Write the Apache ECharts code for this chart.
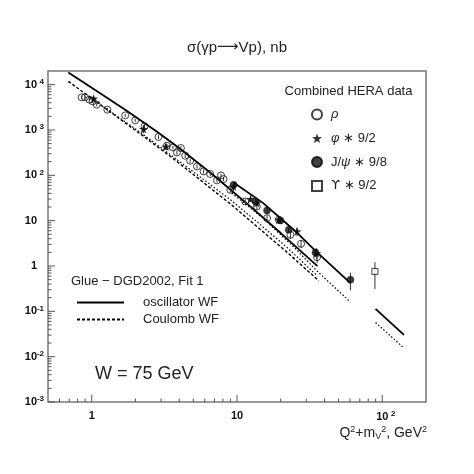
<!DOCTYPE html>
<html><head><meta charset="utf-8">
<script src="https://cdn.jsdelivr.net/npm/echarts@6/dist/echarts.min.js"></script>
<style>html,body{margin:0;padding:0;background:#fff}#c{width:474px;height:474px}</style>
</head><body><div id="c"></div>
<script>
// ---- axis ranges / tick labels ----
const xMin = 0.5, xMax = 200;
const yMin = 0.001, yMax = 20000;

// ---- data points (Combined HERA data) ----
const rhoX = [0.853,0.899,0.963,1.016,1.083,1.28,1.70,1.99,2.31,2.88,3.29,3.62,3.86,4.11,4.40,4.76,5.30,5.89,6.54,7.28,7.76,8.08,8.99,11.4,13.7,16.1,19.4,23.3,27.6,35.6];
const rhoY = [5250,5250,4667,4277,3620,2806,2100,1630,1202,701,450,413,320,400,271,210,157,122,107,77.3,99.5,82.8,48,26.5,20.6,11.4,10.5,4.88,3.09,1.57];
const rhoErr = [450,450,400,370,310,240,180,140,250,70,45,40,35,40,30,22,16,13,11,8,10,9,6,3.5,2.8,1.8,1.6,0.9,0.6,0.4];

const phiX = [1.03,2.27,3.24,9.47,12.4,13.7,19.4,25.9,35.3];
const phiY = [4910,1050,430,56.9,30,24.5,10.5,5.78,1.93];
const phiErr = [600,200,60,8,4,3.5,2,1.2,0.5];

const jpsiX = [9.47,13.4,16.1,19.9,22.7,34.7,60.4];
const jpsiY = [62,26.5,16.8,10.1,6.3,1.99,0.5];
const jpsiErr = [6,3,2,1.3,0.9,0.4,0.21];

const upsX = [89];
const upsY = [0.76];
const upsErr = [0.45];

// ---- model curves (Glue DGD2002, Fit 1) ----
const rhoOscX = [0.69,1.0,1.72,2.8,4.06,6.5,12,20,35.8];
const rhoOscY = [18600,8550,2710,928,387,117,22.3,5.33,0.99];
const jpsiOscX = [9.47,15,25,35,60.4];
const jpsiOscY = [69.7,25,6.0,2.1,0.42];
const upsOscX = [89.9,141];
const upsOscY = [0.1135,0.0303];

const rhoCoulX = [0.69,1.2,2.27,3.5,5.58,9,13.7,22,36.5];
const rhoCoulY = [11830,3236,730,257,79.2,23.4,7.45,2.04,0.474];
const phiCoulX = [1.1,2.27,5.58,9,13.7,22,35.8];
const phiCoulY = [4000,790,92,29,9.5,2.6,0.6];
const jpsiCoulX = [9.2,15,25,35.8,60.4];
const jpsiCoulY = [40.7,11.5,2.5,0.757,0.16];
const upsCoulX = [89.9,141];
const upsCoulY = [0.0566,0.0155];

// ---- helpers ----
const F = "'Liberation Sans', Arial, sans-serif";
const FD = "'DejaVu Sans', sans-serif";
const zip = (xs, ys) => xs.map((x, i) => [x, ys[i]]);
const zipErr = (xs, ys, es) => xs.map((x, i) => [x, ys[i], es[i]]);
function expOf(v) {
  const l = Math.log10(v), e = Math.round(l);
  return Math.abs(l - e) < 1e-6 ? e : null;
}
function yLabel(v) {
  const e = expOf(v);
  if (e === null) return '';
  if (e === 0) return '{b|1}{p|}';
  if (e === 1) return '{b|10}{p|}';
  return '{b|10}{s|' + e + '}';
}
function xLabel(v) {
  const e = expOf(v);
  if (e === null) return '';
  if (e === 0) return '{b|1}';
  if (e === 1) return '{b|10}';
  return '{p|}{b|10}{s|' + e + '}';
}
const labelRich = {
  b: {fontFamily: F, fontWeight: 'bold', fontSize: 11, color: '#111'},
  s: {fontFamily: F, fontWeight: 'bold', fontSize: 8, color: '#111', width: 7, align: 'right', verticalAlign: 'top', padding: [0, 0, 6, 0]},
  p: {width: 7}
};

// tick marks (major/minor) built from decades
const tickData = [];
for (let e = -3; e <= 4; e++) for (let m = 1; m <= 9; m++) {
  const v = m * Math.pow(10, e);
  if (v > yMax * 0.999) break;
  tickData.push([xMin, v, m === 1 ? 0 : 1]);
}
for (let e = -1; e <= 2; e++) for (let m = 1; m <= 9; m++) {
  const v = m * Math.pow(10, e);
  if (v < xMin * 1.001 || v > xMax * 0.999) continue;
  tickData.push([v, yMin, m === 1 ? 2 : 3]);
}

const star = 'path://M0,-10 L2.35,-3.24 L9.51,-3.09 L3.8,1.24 L5.88,8.09 L0,4 L-5.88,8.09 L-3.8,1.24 L-9.51,-3.09 L-2.35,-3.24 Z';

const legendNames = {
  rho: '{i|ρ}',
  phi: '{i|φ} ∗ 9/2',
  jpsi: 'J/{i|ψ} ∗ 9/8',
  ups: '{u|ϒ} ∗ 9/2'
};

function lineSeries(name, xs, ys, type, width) {
  return {
    type: 'line', name: name, data: zip(xs, ys), symbol: 'none', showSymbol: false, smooth: false,
    itemStyle: {color: '#000', opacity: 0},
    lineStyle: {color: '#000', width: width, type: type}, z: 2, silent: true
  };
}
function errSeries(xs, ys, es) {
  return {
    type: 'custom', data: zipErr(xs, ys, es), z: 3, silent: true, clip: false,
    renderItem: function (params, api) {
      const x = api.value(0), y = api.value(1), e = api.value(2);
      const a = api.coord([x, y - e]), b = api.coord([x, y + e]);
      return {type: 'line', shape: {x1: a[0], y1: a[1], x2: b[0], y2: b[1]}, style: {stroke: '#333', lineWidth: 1}};
    }
  };
}

const chart = echarts.init(document.getElementById('c'), null, {renderer: 'canvas'});
chart.setOption({
  animation: false,
  backgroundColor: '#fff',
  title: {
    text: 'σ(γp{a|⟶}Vp), nb', left: 'center', top: 40, padding: 0,
    textStyle: {fontFamily: F, fontSize: 15, fontWeight: 'normal', color: '#222',
      rich: {a: {fontFamily: FD, fontSize: 15, color: '#222'}}}
  },
  grid: {left: 48, right: 48, top: 71, bottom: 72, show: true, borderColor: '#777', borderWidth: 1.5, backgroundColor: 'transparent'},
  xAxis: {
    type: 'log', logBase: 10, min: xMin, max: xMax, splitNumber: 3,
    axisLine: {show: false}, axisTick: {show: false}, splitLine: {show: false}, minorTick: {show: false},
    axisLabel: {formatter: xLabel, rich: labelRich, margin: 8, showMinLabel: true, showMaxLabel: true}
  },
  yAxis: {
    type: 'log', logBase: 10, min: yMin, max: yMax, splitNumber: 7,
    axisLine: {show: false}, axisTick: {show: false}, splitLine: {show: false}, minorTick: {show: false},
    axisLabel: {formatter: yLabel, rich: labelRich, margin: 4}
  },
  legend: [
    {
      data: ['rho', 'phi', 'jpsi', 'ups'], orient: 'vertical', left: 306, top: 101.5,
      itemWidth: 10, itemHeight: 10, itemGap: 7.8, selectedMode: false,
      formatter: function (n) { return legendNames[n]; },
      textStyle: {fontFamily: F, fontSize: 13, color: '#222', lineHeight: 16, padding: [0, 0, 0, 4],
        rich: {i: {fontFamily: F, fontSize: 13, fontStyle: 'italic', color: '#222'},
               u: {fontFamily: FD, fontSize: 13, color: '#222'}}}
    },
    {
      data: ['oscillator WF', 'Coulomb WF'], orient: 'vertical', left: 71, top: 289.5,
      itemWidth: 47, itemHeight: 10, itemGap: 1, selectedMode: false,
      itemStyle: {opacity: 0},
      textStyle: {fontFamily: F, fontSize: 13, color: '#222', lineHeight: 16, padding: [0, 0, 0, 14]}
    }
  ],
  graphic: [
    {type: 'text', x: 348.5, y: 91, style: {text: 'Combined HERA data', font: '13px ' + F, fill: '#222', align: 'center', verticalAlign: 'middle'}},
    {type: 'text', x: 71, y: 281, style: {text: 'Glue − DGD2002, Fit 1', font: '13px ' + F, fill: '#222', align: 'left', verticalAlign: 'middle'}},
    {type: 'text', x: 95, y: 374, style: {text: 'W = 75 GeV', font: '18px ' + F, fill: '#222', align: 'left', verticalAlign: 'middle'}},
    {type: 'text', x: 427, y: 433, style: {
      text: 'Q{s|2}+m{v|V}{s|2}, GeV{s|2}', font: '14px ' + F, fill: '#222', align: 'right', verticalAlign: 'middle',
      rich: {
        s: {fontFamily: F, fontSize: 9, fill: '#222', verticalAlign: 'top', padding: [0, 0, 7, 0]},
        v: {fontFamily: F, fontSize: 9, fill: '#222', verticalAlign: 'bottom', padding: [6, 0, 0, 0]}
      }
    }}
  ],
  series: [
    lineSeries('oscillator WF', rhoOscX, rhoOscY, 'solid', 1.8),
    lineSeries('oscillator WF', jpsiOscX, jpsiOscY, 'solid', 1.8),
    lineSeries('oscillator WF', upsOscX, upsOscY, 'solid', 1.8),
    lineSeries('Coulomb WF', rhoCoulX, rhoCoulY, [3, 2], 1.4),
    lineSeries('Coulomb WF', phiCoulX, phiCoulY, [1.5, 2], 1.2),
    lineSeries('Coulomb WF', jpsiCoulX, jpsiCoulY, [1.5, 2], 1.2),
    lineSeries('Coulomb WF', upsCoulX, upsCoulY, [1.5, 2], 1.2),
    errSeries(rhoX, rhoY, rhoErr),
    errSeries(phiX, phiY, phiErr),
    errSeries(jpsiX, jpsiY, jpsiErr),
    errSeries(upsX, upsY, upsErr),
    {type: 'scatter', name: 'rho', data: zip(rhoX, rhoY), symbol: 'circle', symbolSize: 7, z: 4,
      itemStyle: {color: 'rgba(255,255,255,0)', borderColor: '#111', borderWidth: 1}},
    {type: 'scatter', name: 'phi', data: zip(phiX, phiY), symbol: star, symbolSize: 9, z: 5,
      itemStyle: {color: '#000'}},
    {type: 'scatter', name: 'jpsi', data: zip(jpsiX, jpsiY), symbol: 'circle', symbolSize: 7, z: 5,
      itemStyle: {color: '#111', borderColor: '#000', borderWidth: 0.5}},
    {type: 'scatter', name: 'ups', data: zip(upsX, upsY), symbol: 'rect', symbolSize: 6, z: 5,
      itemStyle: {color: '#fff', borderColor: '#111', borderWidth: 1}},
    {type: 'custom', data: tickData, z: 6, silent: true, clip: false,
      renderItem: function (params, api) {
        const k = api.value(2);
        const p = api.coord([api.value(0), api.value(1)]);
        let x2 = p[0], y2 = p[1];
        if (k < 2) x2 = p[0] + (k === 0 ? 7 : 3.5);
        else y2 = p[1] - (k === 2 ? 7 : 3.5);
        return {type: 'line', shape: {x1: p[0], y1: p[1], x2: x2, y2: y2}, style: {stroke: '#555', lineWidth: 1}};
      }}
  ]
});
</script>
</body></html>
